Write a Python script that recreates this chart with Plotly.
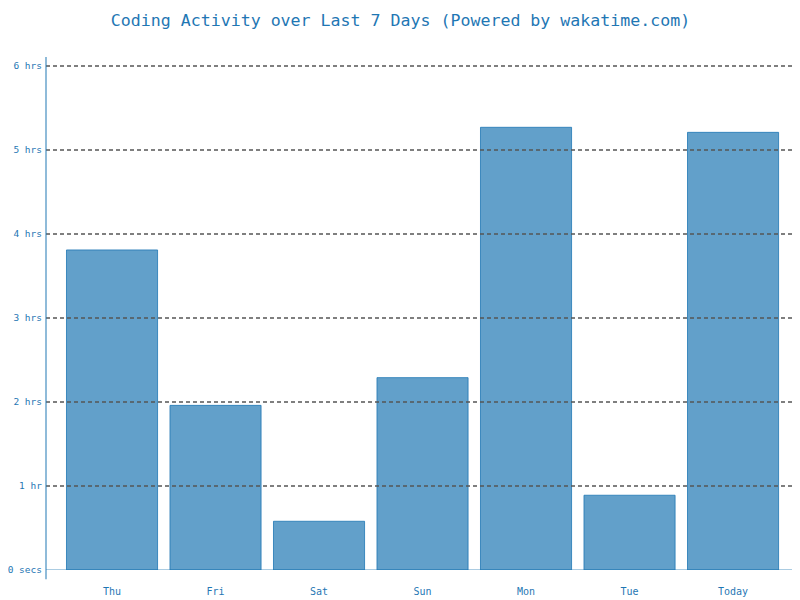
import plotly.graph_objects as go

days = ["Thu", "Fri", "Sat", "Sun", "Mon", "Tue", "Today"]
hours = [3.81, 1.96, 0.58, 2.29, 5.27, 0.89, 5.21]
tick_vals = [0, 1, 2, 3, 4, 5, 6]
tick_text = ["0 secs", "1 hr", "2 hrs", "3 hrs", "4 hrs", "5 hrs", "6 hrs"]

font = "DejaVu Sans Mono"
blue = "#1f77b4"

fig = go.Figure()
fig.add_trace(go.Bar(
    x=list(range(len(days))), y=hours, width=0.88,
    marker=dict(color="rgba(31,119,180,0.7)",
                line=dict(color="rgba(31,119,180,0.8)", width=1)),
    hoverinfo="y",
))

# dashed guides sit on top of the bars
for v in tick_vals[1:]:
    fig.add_shape(type="line", xref="paper", x0=0, x1=1, yref="y", y0=v, y1=v,
                  line=dict(color="#555", width=1.5, dash="4px,3px"), layer="above")
# axis lines
fig.add_shape(type="line", xref="paper", x0=0, x1=0, yref="paper", y0=-0.018, y1=1,
              line=dict(color="rgba(31,119,180,0.5)", width=2), layer="above")
fig.add_shape(type="line", xref="paper", x0=0, x1=1, yref="y", y0=0, y1=0,
              line=dict(color="rgba(31,119,180,0.5)", width=1.5), layer="above")

# page body adds an 8px offset, so the figure is 8px smaller on each side
fig.update_layout(
    width=792, height=592,
    margin=dict(l=38, r=0, t=49, b=30, autoexpand=False),
    paper_bgcolor="white", plot_bgcolor="white",
    font=dict(family=font, color=blue),
    title=dict(text="Coding Activity over Last 7 Days (Powered by wakatime.com)",
               x=0.4956, xanchor="center", y=1 - 12 / 592, yanchor="middle", automargin=False,
               font=dict(family=font, size=16.6, color=blue)),
    showlegend=False,
    xaxis=dict(range=[-0.638, 6.647], tickvals=list(range(len(days))), ticktext=days,
               showgrid=False, zeroline=False, showline=False, automargin=False,
               tickfont=dict(size=10, color=blue), ticks="", ticklabelstandoff=14),
    yaxis=dict(range=[0, 6.107], tickvals=tick_vals, ticktext=tick_text,
               showgrid=False, zeroline=False, showline=False, automargin=False,
               tickfont=dict(size=9.5, color=blue), ticks="", ticklabelstandoff=3),
)

fig.write_html("out.html")
